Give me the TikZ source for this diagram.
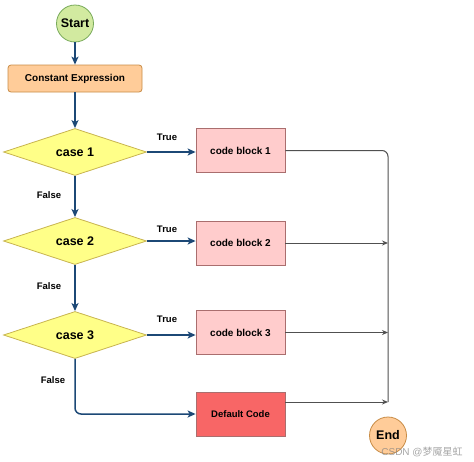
\documentclass[tikz,border=0pt]{standalone}
\usepackage{fontspec}
\setmainfont{Liberation Sans}
\newfontfamily\cjkfont{Noto Sans CJK SC}
\usepackage{xcolor}
\usetikzlibrary{arrows.meta,shapes.geometric}

\definecolor{flowblue}{RGB}{28,72,118}
\definecolor{linegray}{RGB}{80,80,80}
\definecolor{startfill}{RGB}{210,234,160}
\definecolor{startdraw}{RGB}{120,170,90}
\definecolor{orangefill}{RGB}{255,204,153}
\definecolor{orangedraw}{RGB}{200,140,70}
\definecolor{casefill}{RGB}{255,255,136}
\definecolor{casedraw}{RGB}{200,180,80}
\definecolor{blockfill}{RGB}{255,204,204}
\definecolor{blockdraw}{RGB}{170,110,110}
\definecolor{deffill}{RGB}{248,102,102}

\begin{document}
\begin{tikzpicture}[x=1pt,y=-1pt,font=\bfseries]
		\tikzstyle{terminal}=[circle, thick, minimum size=37pt, inner sep=0pt, font=\bfseries\fontsize{12.5}{14}\selectfont]
		\tikzstyle{process}=[rectangle, thick, draw=orangedraw, fill=orangefill, minimum width=134pt, minimum height=27pt, rounded corners=3pt, font=\bfseries\fontsize{10}{12}\selectfont]
		\tikzstyle{decision}=[diamond, thick, draw=casedraw, fill=casefill, minimum width=143pt, minimum height=47pt, inner sep=0pt, font=\bfseries\fontsize{12.5}{14}\selectfont]
		\tikzstyle{block}=[rectangle, thick, draw=blockdraw, fill=blockfill, minimum width=89pt, minimum height=44pt, font=\bfseries\fontsize{10}{12}\selectfont]
		\tikzstyle{flow}=[draw=flowblue, line width=1.5pt, -{Stealth[length=8pt,width=7pt,inset=2pt]}]
		\tikzstyle{merge_line}=[draw=linegray, line width=1pt, -{Stealth[length=6pt,width=5pt]}]
		\tikzstyle{edge_text}=[font=\bfseries\fontsize{9.5}{11}\selectfont]

		\useasboundingbox (0,0) rectangle (474,461);

		% left column
		\node [terminal, draw=startdraw, fill=startfill] (start) at (75,23.5) {Start};
		\node [process] (expr) at (75,78.5) {Constant Expression};
		\node [decision] (case1) at (75,152) {case 1};
		\node [decision] (case2) at (75,241) {case 2};
		\node [decision] (case3) at (75,335) {case 3};

		% code blocks
		\node [block] (block1) at (240.5,150.5) {code block 1};
		\node [block] (block2) at (240.5,243) {code block 2};
		\node [block] (block3) at (240.5,332.5) {code block 3};
		\node [block, fill=deffill] (default) at (240.5,414) {\fontsize{9.5}{11}\selectfont Default Code};

		\node [terminal, draw=orangedraw, fill=orangefill] (end) at (388,435.5) {End};
		\coordinate (merge) at (388,402);

		% main flow
		\draw [flow] (start) -- (expr);
		\draw [flow] (expr) -- (case1);
		\draw [flow] (case1) -- (case2);
		\draw [flow] (case2) -- (case3);
		\draw [flow, rounded corners=6pt] (case3.south) |- (default.west);

		\draw [flow] (case1.east) -- (case1.east -| block1.west);
		\draw [flow] (case2.east) -- (case2.east -| block2.west);
		\draw [flow] (case3.east) -- (case3.east -| block3.west);

		% joining lines
		\draw [draw=linegray, line width=1pt, rounded corners=6pt] (block1.east) -| (merge);
		\draw [merge_line] (block2.east) -- (block2.east -| merge);
		\draw [merge_line] (block3.east) -- (block3.east -| merge);
		\draw [merge_line] (default.east |- merge) -- (merge);

		% labels
		\node [edge_text] at (167,137) {True};
		\node [edge_text] at (167,229) {True};
		\node [edge_text] at (167,319) {True};
		\node [edge_text] at (49,195) {False};
		\node [edge_text] at (49,286) {False};
		\node [edge_text] at (53,380) {False};

		\node [text=gray, opacity=0.7, font=\fontsize{10}{12}\selectfont] at (422,452) {CSDN @\cjkfont 梦魇星虹};
	\end{tikzpicture}
\end{document}
